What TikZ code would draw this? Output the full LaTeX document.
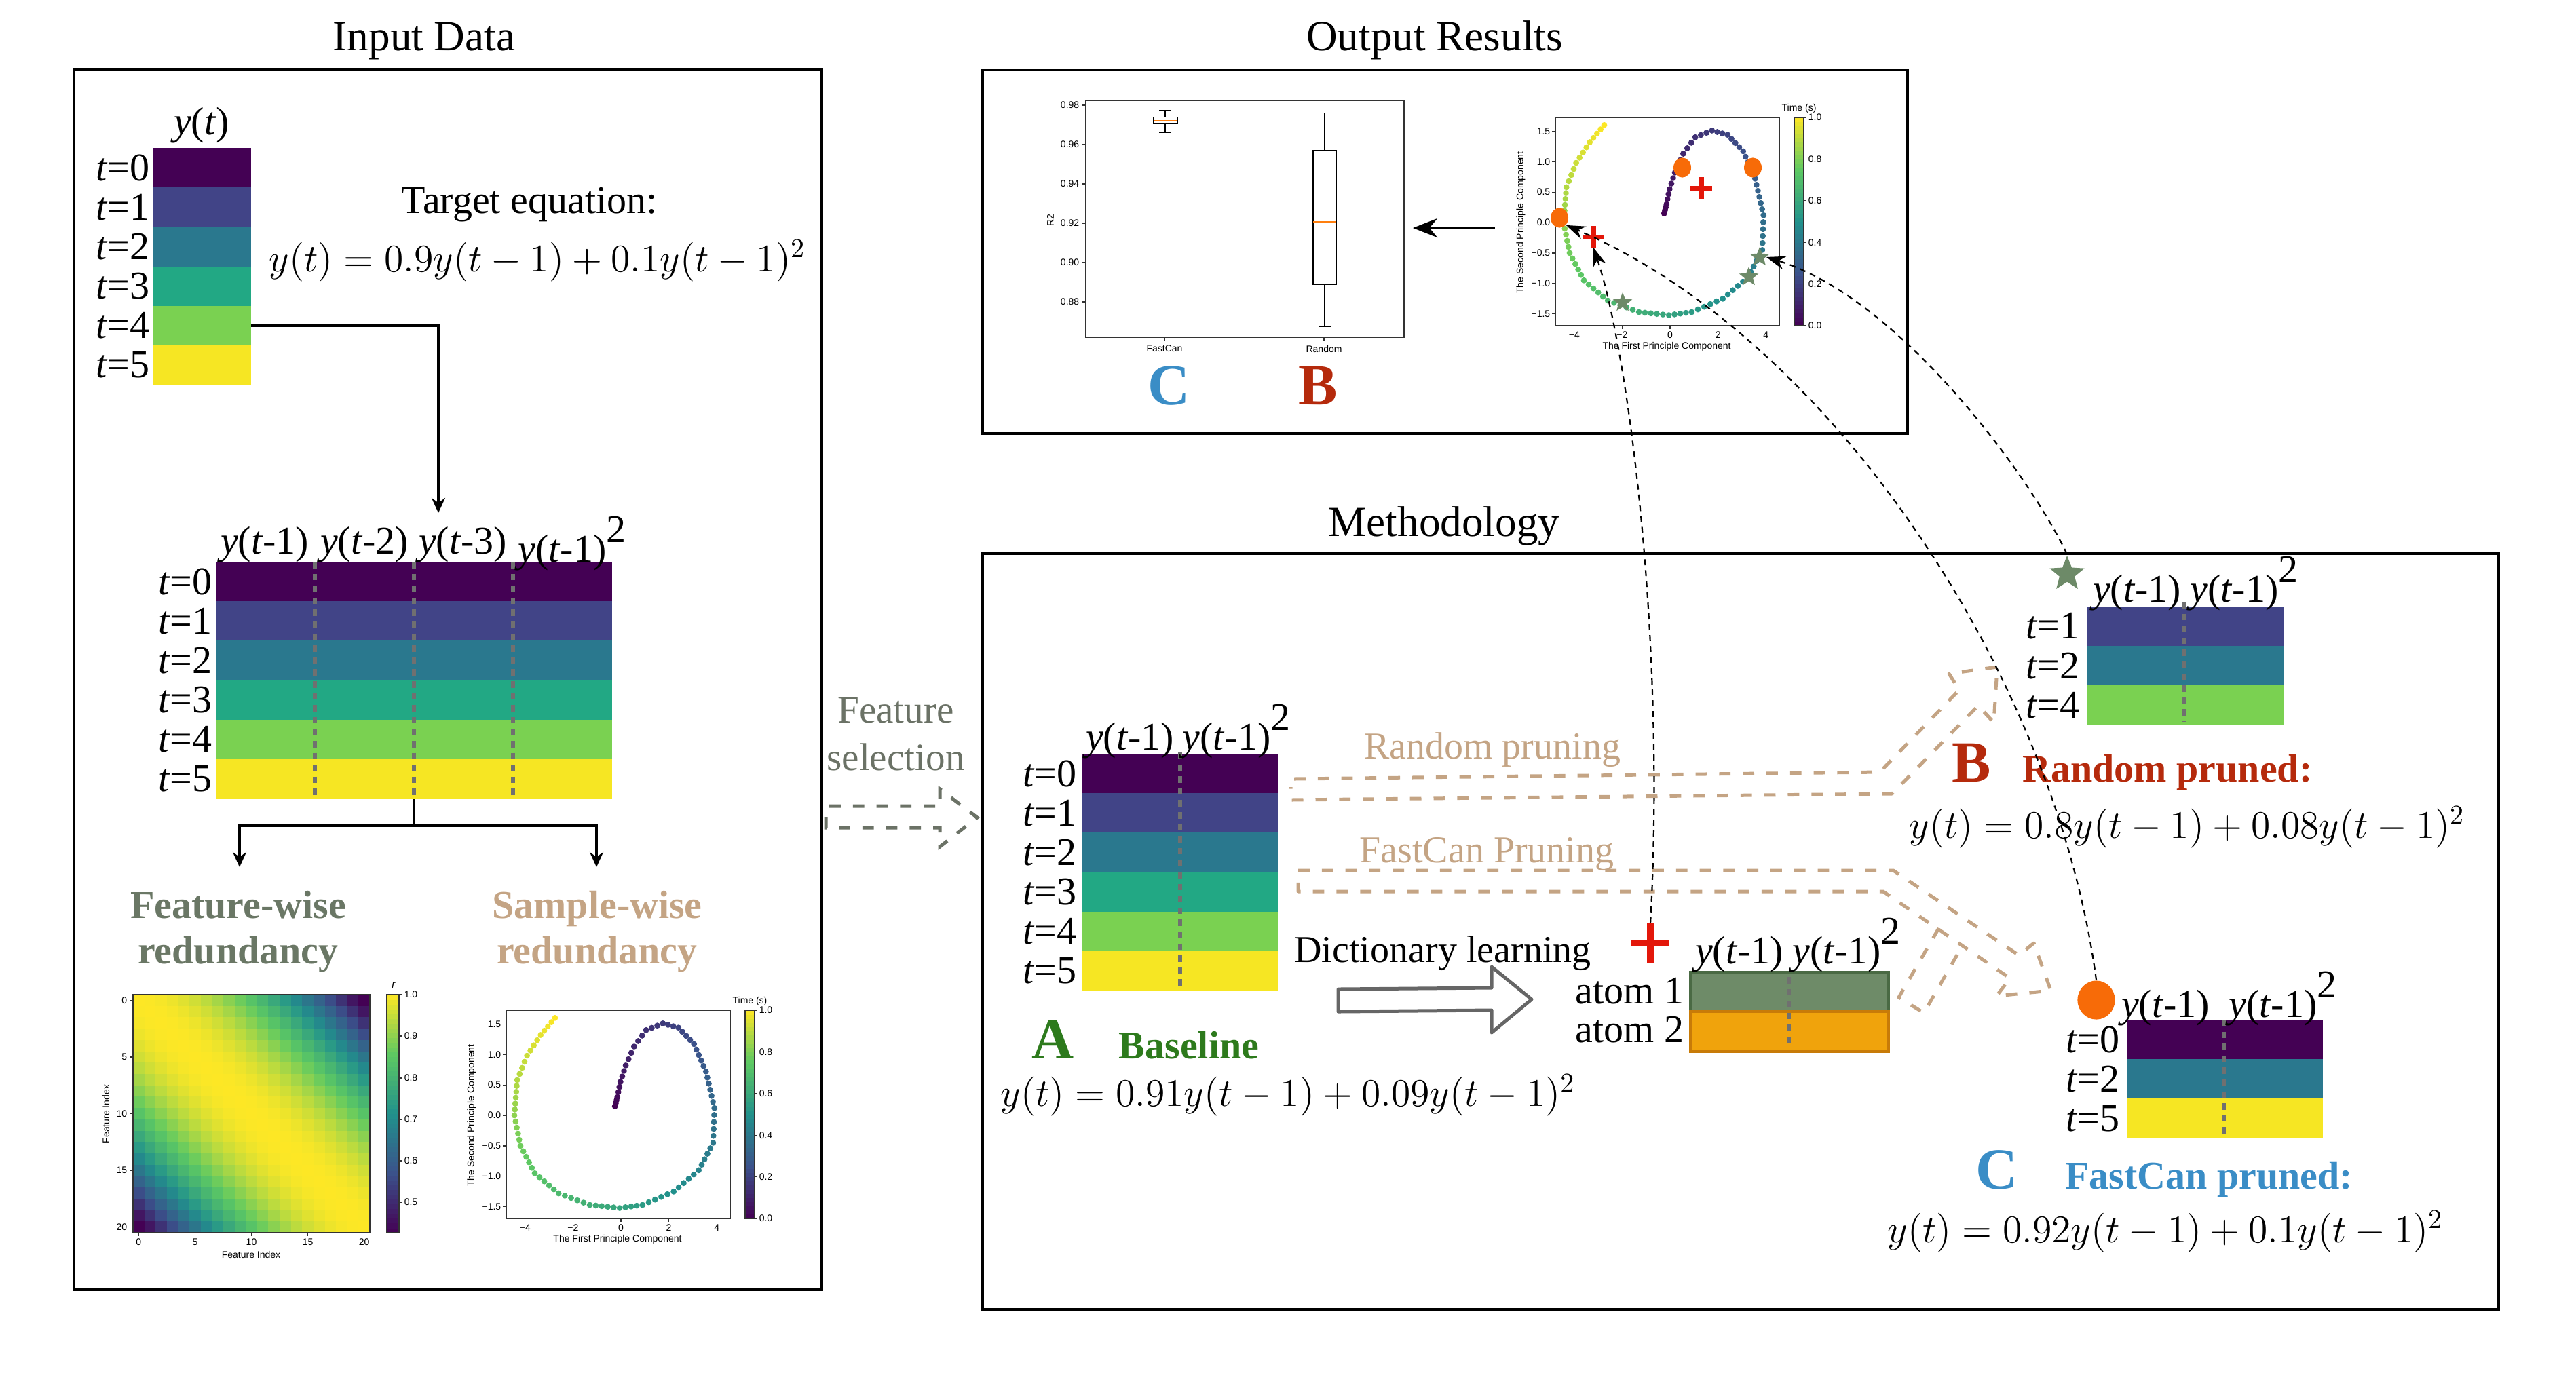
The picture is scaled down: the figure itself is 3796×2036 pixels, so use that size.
\documentclass[tikz,border=0pt]{standalone}
\usepackage[no-math]{fontspec}
\setmainfont{Liberation Serif}
\newfontfamily\plotfont{Liberation Sans}
\usetikzlibrary{arrows.meta,shapes.geometric}

\definecolor{vm0}{HTML}{440154}
\definecolor{vm1}{HTML}{3B528B}
\definecolor{vm2}{HTML}{21918C}
\definecolor{vm3}{HTML}{5EC962}
\definecolor{vm4}{HTML}{FDE725}
\definecolor{ra}{HTML}{440154}
\definecolor{rb}{HTML}{414487}
\definecolor{rc}{HTML}{2A788E}
\definecolor{rd}{HTML}{22A884}
\definecolor{re}{HTML}{7AD151}
\definecolor{rf}{HTML}{F6E623}
\definecolor{tancol}{HTML}{C4A484}
\definecolor{fsgray}{HTML}{6B7266}
\definecolor{fwcol}{HTML}{6A7765}
\definecolor{acol}{HTML}{2D7A1C}
\definecolor{bcol}{HTML}{B52A0C}
\definecolor{ccol}{HTML}{3A8DC6}
\definecolor{odot}{HTML}{F76B08}
\definecolor{rcross}{HTML}{E3170A}
\definecolor{starc}{HTML}{6D8A68}
\definecolor{atomg}{HTML}{6E8B68}
\definecolor{atomgb}{HTML}{4A6A44}
\definecolor{atomo}{HTML}{F0A30C}
\definecolor{atomob}{HTML}{C87B08}
\definecolor{dotg}{HTML}{707070}
\definecolor{boxmed}{HTML}{FF7F0E}
\definecolor{dictg}{HTML}{666666}

\newcommand{\setvir}[1]{%
  \pgfmathsetmacro{\vT}{4*max(0,min(1,#1))}%
  \pgfmathtruncatemacro{\vK}{min(3,int(\vT))}%
  \pgfmathtruncatemacro{\vKn}{\vK+1}%
  \pgfmathsetmacro{\vP}{100-100*(\vT-\vK)}%
  \colorlet{vc}{vm\vK!\vP!vm\vKn}%
}
\newcommand{\ytm}{\textit{y}(\textit{t}-1)}
\newcommand{\ytmsq}{\textit{y}(\textit{t}-1)\raisebox{0.5em}{2}}

\tikzset{
  lbl/.style={inner sep=0pt, font=\fontsize{14.5}{17.5}\selectfont},
  ttl/.style={inner sep=0pt, font=\fontsize{15.8}{19}\selectfont},
  bigl/.style={inner sep=0pt, font=\fontsize{21.5}{24}\selectfont\bfseries},
  boldl/.style={inner sep=0pt, font=\fontsize{14.5}{17.5}\selectfont\bfseries},
  tk/.style={inner sep=0pt, font=\plotfont\fontsize{3.5}{4}\selectfont},
  panel/.style={draw=black, line width=0.85pt},
  conn/.style={line width=0.85pt, -{Stealth[length=5.5pt,width=5pt]}},
  dotln/.style={draw=dotg, line width=1.4pt, dash pattern=on 2.4pt off 2pt},
  fat/.style={draw=tancol, line width=1.25pt, dash pattern=on 4.2pt off 4.5pt, line join=round},
  fsarrow/.style={draw=fsgray, line width=1.25pt, dash pattern=on 4.2pt off 4.5pt},
  link/.style={line width=0.55pt, dash pattern=on 2.2pt off 1.8pt, -{Stealth[length=7pt,width=5pt]}},
  axln/.style={draw=black!80, line width=0.3pt},
  mark5/.style={star, star points=5, star point ratio=2.3, fill=starc, inner sep=0pt},
  odotn/.style={ellipse, fill=odot, inner sep=0pt},
  xbox/.style={inner sep=0pt},
}

\newcommand{\pcaplot}{%
  \foreach \xa/\ya/\xb/\yb/\nm/\nn/\co in {%
    -8.8/13.5/-5.3/26.9/2/3/0, -5.3/26.9/-0.7/49.4/2/3/3, -0.7/49.4/7.1/73.6/2/3/6,
    7.1/73.6/19.4/101.5/2/3/9, 19.4/101.5/37.1/125.7/2/3/12, 37.1/125.7/61.8/135.6/2/3/15,
    61.8/135.6/84.7/129.3/2/3/18, 84.7/129.3/107.7/105.1/3/4/21, 107.7/105.1/125.3/64.7/4/5/25,
    125.3/64.7/137.7/10.8/5/6/30, 137.7/10.8/135.9/-40.4/4/5/36, 135.9/-40.4/114.7/-80.8/4/5/41,
    114.7/-80.8/77.7/-112.3/4/5/46, 77.7/-112.3/31.8/-132/4/5/51, 31.8/-132/-1.8/-136.5/3/4/56,
    -1.8/-136.5/-45.9/-132/4/5/60, -45.9/-132/-91.8/-115/4/5/65, -91.8/-115/-127/-85.3/4/5/70,
    -127/-85.3/-148/-44.9/4/5/75, -148/-44.9/-157/0/4/5/80, -157/0/-152.8/52.1/5/6/85,
    -152.8/52.1/-138.4/88/3/4/91, -138.4/88/-118.3/118.5/3/4/95, -118.3/118.5/-97.1/143.7/3/4/99}{%
    \foreach \m in {0,...,\nm}{%
      \setvir{(\co+\m)/103}%
      \fill[vc] ({(\xa)+((\xb)-(\xa))*\m/\nn},{-((\ya)+((\yb)-(\ya))*\m/\nn)}) circle (1.1pt);
    }%
  }%
  \fill[vm4] (-97.1,-143.7) circle (1.1pt);
  \draw[axln] (-169,-155) rectangle (161,152);
  \foreach \v/\lb [count=\k] in {-4/−4,-2/−2,0/0,2/2,4/4}{%
    \draw[axln] ({35.3*(\v)},152) -- ({35.3*(\v)},157);
    \node[tk] (xt\k) at ({35.3*(\v)},166) {\lb};}
  \foreach \v/\lb [count=\k] in {1.5/1.5,1/1.0,0.5/0.5,0/0.0,-0.5/−0.5,-1/−1.0,-1.5/−1.5}{%
    \draw[axln] (-169,{-89.8*(\v)}) -- (-174,{-89.8*(\v)});
    \node[tk,anchor=east] (yt\k) at (-176,{-89.8*(\v)}) {\lb};}
  \node[tk] (xl) at (-5,183) {The First Principle Component};
  \node[tk,rotate=90] (yl) at (-220,0) {The Second Principle Component};
  \foreach \k in {0,...,49}{\setvir{(\k+0.5)/50}\fill[vc] (183,{152-6.14*(\k+1)}) rectangle (197,{152.5-6.14*\k});}
  \draw[axln] (183,-155) rectangle (197,152);
  \foreach \v/\lb [count=\k] in {0/0.0,0.2/0.2,0.4/0.4,0.6/0.6,0.8/0.8,1/1.0}{%
    \draw[axln] (197,{152-307*(\v)}) -- (201,{152-307*(\v)});
    \node[tk,anchor=west] (ct\k) at (203,{152-307*(\v)}) {\lb};}
  \node[tk] (ctl) at (190,-168) {Time (s)};
}

\begin{document}
\begin{tikzpicture}[x=0.25pt,y=-0.25pt]
\useasboundingbox (0,0) rectangle (3796,2036);

%%% panels and titles
\draw[panel] (109,102) rectangle (1211,1901);
\draw[panel] (1448,103) rectangle (2811,639);
\draw[panel] (1448,816) rectangle (3682,1930);
\node[ttl,anchor=base] (tin) at (625,74) {Input Data};
\node[ttl,anchor=base] (tout) at (2114,74) {Output Results};
\node[ttl,anchor=base] (tmeth) at (2128,790) {Methodology};

%%% ===== INPUT DATA =====
\foreach \c [count=\k from 0] in {ra,rb,rc,rd,re,rf}
  \fill[\c] (225,{218+58.2*\k}) rectangle (370,{218.6+58.2*(\k+1)});
\node[lbl,anchor=base] (ythdr) at (297,198) {\textit{y}(\textit{t})};
\foreach \n [count=\k from 0] in {0,1,2,3,4,5}
  \node[lbl,anchor=east] (yl\n) at (221,{247+58.2*\k}) {\textit{t}=\n};
\node[lbl,anchor=base] (tgt) at (780,314) {Target equation:};
\node[lbl,anchor=base] (eqin) at (792,400) {$y(t)=0.9y(t-1)+0.1y(t-1)^2$};

\coordinate (yt4e) at (370,480);
\coordinate (lagin) at (646,756);
\draw[conn] (yt4e) -| (lagin);

% lag matrix
\foreach \c [count=\k from 0] in {ra,rb,rc,rd,re,rf}
  \fill[\c] (318,{828+58.2*\k}) rectangle (902,{828.6+58.2*(\k+1)});
\foreach \xx in {464,610,756} \draw[dotln] (\xx,828) -- (\xx,1172);
\node[lbl,anchor=base] (lh1) at (390,816) {\ytm};
\node[lbl,anchor=base] (lh2) at (537,816) {\textit{y}(\textit{t}-2)};
\node[lbl,anchor=base] (lh3) at (682,816) {\textit{y}(\textit{t}-3)};
\node[lbl,anchor=base] (lh4) at (843,828) {\ytmsq};
\foreach \n [count=\k from 0] in {0,1,2,3,4,5}
  \node[lbl,anchor=east] (ll\n) at (313,{857+58.2*\k}) {\textit{t}=\n};

\coordinate (lagbot) at (610,1177);
\coordinate (jn) at (610,1217);
\coordinate (fwin) at (353,1278);
\coordinate (swin) at (879,1278);
\draw[line width=0.85pt] (lagbot) -- (jn);
\draw[conn] (jn) -| (fwin);
\draw[conn] (jn) -| (swin);

\node[boldl,anchor=base,text=fwcol] (fw1) at (351,1353) {Feature-wise};
\node[boldl,anchor=base,text=fwcol] (fw2) at (351,1420) {redundancy};
\node[boldl,anchor=base,text=tancol] (sw1) at (880,1353) {Sample-wise};
\node[boldl,anchor=base,text=tancol] (sw2) at (880,1420) {redundancy};

% heatmap
\foreach \i in {0,...,20}{
  \foreach \j in {0,...,20}{
    \pgfmathsetmacro{\rr}{cos(3.28*abs(\i-\j))}
    \setvir{(\rr-0.428)/0.572}
    \fill[vc] ({196+16.62*\j},{1466+16.71*\i}) rectangle ({196.7+16.62*(\j+1)},{1466.7+16.71*(\i+1)});
  }
}
\draw[axln] (196,1466) rectangle (545,1817);
\foreach \v [count=\k] in {0,5,10,15,20}{
  \draw[axln] (196,{1474.4+16.71*\v}) -- (191,{1474.4+16.71*\v});
  \node[tk,anchor=east] (hy\k) at (188,{1474.4+16.71*\v}) {\v};
  \draw[axln] ({204.3+16.62*\v},1817) -- ({204.3+16.62*\v},1822);
  \node[tk] (hx\k) at ({204.3+16.62*\v},1831) {\v};
}
\node[tk] (hxl) at (370,1849) {Feature Index};
\node[tk,rotate=90] (hyl) at (156,1642) {Feature Index};
\foreach \k in {0,...,49}{\setvir{(\k+0.5)/50}\fill[vc] (570,{1817-7.02*(\k+1)}) rectangle (588,{1817.5-7.02*\k});}
\draw[axln] (570,1466) rectangle (588,1817);
\foreach \v/\yy [count=\k] in {1.0/1466,0.9/1527,0.8/1589,0.7/1650,0.6/1711,0.5/1772}{
  \draw[axln] (588,\yy) -- (593,\yy);
  \node[tk,anchor=west] (hc\k) at (595,\yy) {\v};
}
\node[tk,font=\plotfont\itshape\fontsize{4}{5}\selectfont] (hr) at (580,1452) {r};

% sample-wise scatter
\begin{scope}[shift={(915,1644)},name prefix=in-]
  \pcaplot
\end{scope}

%%% ===== OUTPUT RESULTS =====
\draw[axln] (1600,148) rectangle (2069,497);
\foreach \lb/\yy [count=\k] in {0.88/445,0.90/387,0.92/329,0.94/271,0.96/213,0.98/155}{
  \draw[axln] (1600,\yy) -- (1594,\yy);
  \node[tk,anchor=east] (by\k) at (1591,\yy) {\lb};
}
\node[tk,rotate=90] (br2) at (1548,325) {R2};
\draw[axln] (1716,497) -- (1716,503);
\draw[axln] (1951,497) -- (1951,503);
\node[tk] (bfc) at (1716,514) {FastCan};
\node[tk] (brd) at (1951,514) {Random};
\draw[line width=0.35pt] (1700,172.4) rectangle (1735,182.5);
\draw[line width=0.35pt] (1717,172.4) -- (1717,162.3) (1717,182.5) -- (1717,195.6)
  (1708,162.3) -- (1726,162.3) (1708,195.6) -- (1726,195.6);
\draw[boxmed,line width=0.5pt] (1700,178.2) -- (1735,178.2);
\draw[line width=0.35pt] (1935,221.7) rectangle (1969,418.9);
\draw[line width=0.35pt] (1952,221.7) -- (1952,166.6) (1952,418.9) -- (1952,481.3)
  (1943,166.6) -- (1961,166.6) (1943,481.3) -- (1961,481.3);
\draw[boxmed,line width=0.5pt] (1935,327) -- (1969,327);
\node[bigl,anchor=base,text=ccol] (oC) at (1723,596) {C};
\node[bigl,anchor=base,text=bcol] (oB) at (1942,596) {B};

\coordinate (pcaw) at (2203,336);
\coordinate (boxe) at (2082,336);
\draw[line width=1.1pt,-{Stealth[length=9pt,width=7pt]}] (pcaw) -- (boxe);

\begin{scope}[shift={(2461,328)},name prefix=out-]
  \pcaplot
\end{scope}
\node[odotn,minimum width=6.5pt,minimum height=7.3pt] (od1) at (2479,247) {};
\node[odotn,minimum width=6.5pt,minimum height=7.3pt] (od2) at (2583,247) {};
\node[odotn,minimum width=6.5pt,minimum height=7.3pt] (od3) at (2298,321) {};
\node[xbox,minimum size=7.5pt] (oc1) at (2507,277) {};
\node[xbox,minimum size=7.5pt] (oc2) at (2348,349) {};
\draw[rcross,line width=1.75pt] (oc1.west) -- (oc1.east) (oc1.north) -- (oc1.south);
\draw[rcross,line width=1.75pt] (oc2.west) -- (oc2.east) (oc2.north) -- (oc2.south);
\node[mark5,minimum size=7.5pt] (os1) at (2391,446) {};
\node[mark5,minimum size=7.5pt] (os2) at (2577,408) {};
\node[mark5,minimum size=7.5pt] (os3) at (2593,379) {};

%%% ===== FEATURE SELECTION ARROW =====
\node[inner sep=0pt,anchor=base,text=fsgray,font=\fontsize{14.3}{17}\selectfont] (fs1) at (1320,1065) {Feature};
\node[inner sep=0pt,anchor=base,text=fsgray,font=\fontsize{14.3}{17}\selectfont] (fs2) at (1320,1135) {selection};
\draw[fsarrow] (1222,1188) -- (1385,1188) -- (1385,1163) -- (1440,1205) -- (1385,1248) -- (1385,1220) -- (1217,1220) -- (1217,1203);

%%% ===== METHODOLOGY =====
\foreach \c [count=\k from 0] in {ra,rb,rc,rd,re,rf}
  \fill[\c] (1594,{1111+58.2*\k}) rectangle (1884,{1111.6+58.2*(\k+1)});
\draw[dotln] (1739,1109) -- (1739,1455);
\node[lbl,anchor=base] (bh1) at (1665,1105) {\ytm};
\node[lbl,anchor=base] (bh2) at (1822,1105) {\ytmsq};
\foreach \n [count=\k from 0] in {0,1,2,3,4,5}
  \node[lbl,anchor=east] (bl\n) at (1587,{1140+58.2*\k}) {\textit{t}=\n};
\node[bigl,anchor=base,text=acol] (mA) at (1552,1560) {A};
\node[boldl,anchor=base,text=acol] (mBase) at (1752,1560) {Baseline};
\node[lbl,anchor=base] (eqbase) at (1898,1630) {$y(t)=0.91y(t-1)+0.09y(t-1)^2$};

\node[inner sep=0pt,anchor=base,text=tancol,font=\fontsize{14}{17}\selectfont] (rpl) at (2199,1118) {Random pruning};
\node[inner sep=0pt,anchor=base,text=tancol,font=\fontsize{14}{17}\selectfont] (fpl) at (2191,1271) {FastCan Pruning};
\draw[fat] (1907,1148) -- (2770,1138) -- (2887,1017) -- (2872,993) -- (2943,983) -- (2938,1065) -- (2915,1040) -- (2788,1170) -- (1902,1179) -- (1902,1160);
\draw[fat] (1913,1283) -- (2790,1283) -- (2975,1408) -- (2997,1390) -- (3022,1460) -- (2942,1468) -- (2962,1442) -- (2775,1314) -- (1913,1314) -- (1913,1298);
\draw[fat] (2857,1368) -- (2798,1470) -- (2835,1493) -- (2890,1397);

\node[lbl,anchor=base,font=\fontsize{14}{17}\selectfont] (dictl) at (2126,1418) {Dictionary learning};
\draw[draw=dictg,line width=1.25pt,fill=white,line join=round] (1972,1458) -- (2198,1456) -- (2198,1425) -- (2257,1473) -- (2198,1522) -- (2198,1489) -- (1972,1491) -- cycle;

\node[xbox,minimum width=13.75pt,minimum height=14.25pt] (mcross) at (2432,1390) {};
\draw[rcross,line width=2.5pt] (mcross.west) -- (mcross.east) (mcross.north) -- (mcross.south);

\fill[atomg] (2491,1433) rectangle (2783,1491);
\draw[atomgb,line width=0.8pt] (2491,1433) rectangle (2783,1491);
\fill[atomo] (2491,1491) rectangle (2783,1550);
\draw[atomob,line width=0.8pt] (2491,1491) rectangle (2783,1550);
\draw[dotln] (2636,1440) -- (2636,1545);
\node[lbl,anchor=base] (ah1) at (2563,1420) {\ytm};
\node[lbl,anchor=base] (ah2) at (2721,1420) {\ytmsq};
\node[lbl,anchor=base east] (at1) at (2482,1479) {atom 1};
\node[lbl,anchor=base east] (at2) at (2482,1536) {atom 2};

\foreach \c [count=\k from 0] in {rb,rc,re}
  \fill[\c] (3076,{894+58.2*\k}) rectangle (3365,{894.6+58.2*(\k+1)});
\draw[dotln] (3218,887) -- (3218,1064);
\node[lbl,anchor=base] (rh1) at (3149,887) {\ytm};
\node[lbl,anchor=base] (rh2) at (3307,887) {\ytmsq};
\foreach \n [count=\k from 0] in {1,2,4}
  \node[lbl,anchor=east] (rl\n) at (3065,{923+58.2*\k}) {\textit{t}=\n};
\node[mark5,minimum size=13.5pt] (mstar) at (3046,846) {};
\node[bigl,anchor=base,text=bcol] (mB) at (2905,1152) {B};
\node[boldl,anchor=base,text=bcol] (mRp) at (3194,1152) {Random pruned:};
\node[lbl,anchor=base] (eqrand) at (3223,1235) {$y(t)=0.8y(t-1)+0.08y(t-1)^2$};

\foreach \c [count=\k from 0] in {ra,rc,rf}
  \fill[\c] (3134,{1503+58.2*\k}) rectangle (3423,{1503.6+58.2*(\k+1)});
\draw[dotln] (3277,1503) -- (3277,1672);
\node[lbl,anchor=base] (fh1) at (3191,1499) {\ytm};
\node[lbl,anchor=base] (fh2) at (3364,1499) {\ytmsq};
\foreach \n [count=\k from 0] in {0,2,5}
  \node[lbl,anchor=east] (fl\n) at (3124,{1532+58.2*\k}) {\textit{t}=\n};
\node[odotn,minimum width=13.8pt,minimum height=14.3pt] (mdot) at (3089,1474) {};
\node[bigl,anchor=base,text=ccol] (mC) at (2943,1752) {C};
\node[boldl,anchor=base,text=ccol] (mFp) at (3255,1752) {FastCan pruned:};
\node[lbl,anchor=base] (eqfc) at (3191,1831) {$y(t)=0.92y(t-1)+0.1y(t-1)^2$};

%%% ===== dashed links =====
\draw[link] (mcross.north) .. controls (2455,950) and (2400,520) .. (oc2.south);
\draw[link] (mdot.north) .. controls (3030,1000) and (2700,500) .. (od3.south east);
\draw[link] (mstar.north) .. controls (2990,700) and (2800,440) .. (os3.east);

\end{tikzpicture}
\end{document}
